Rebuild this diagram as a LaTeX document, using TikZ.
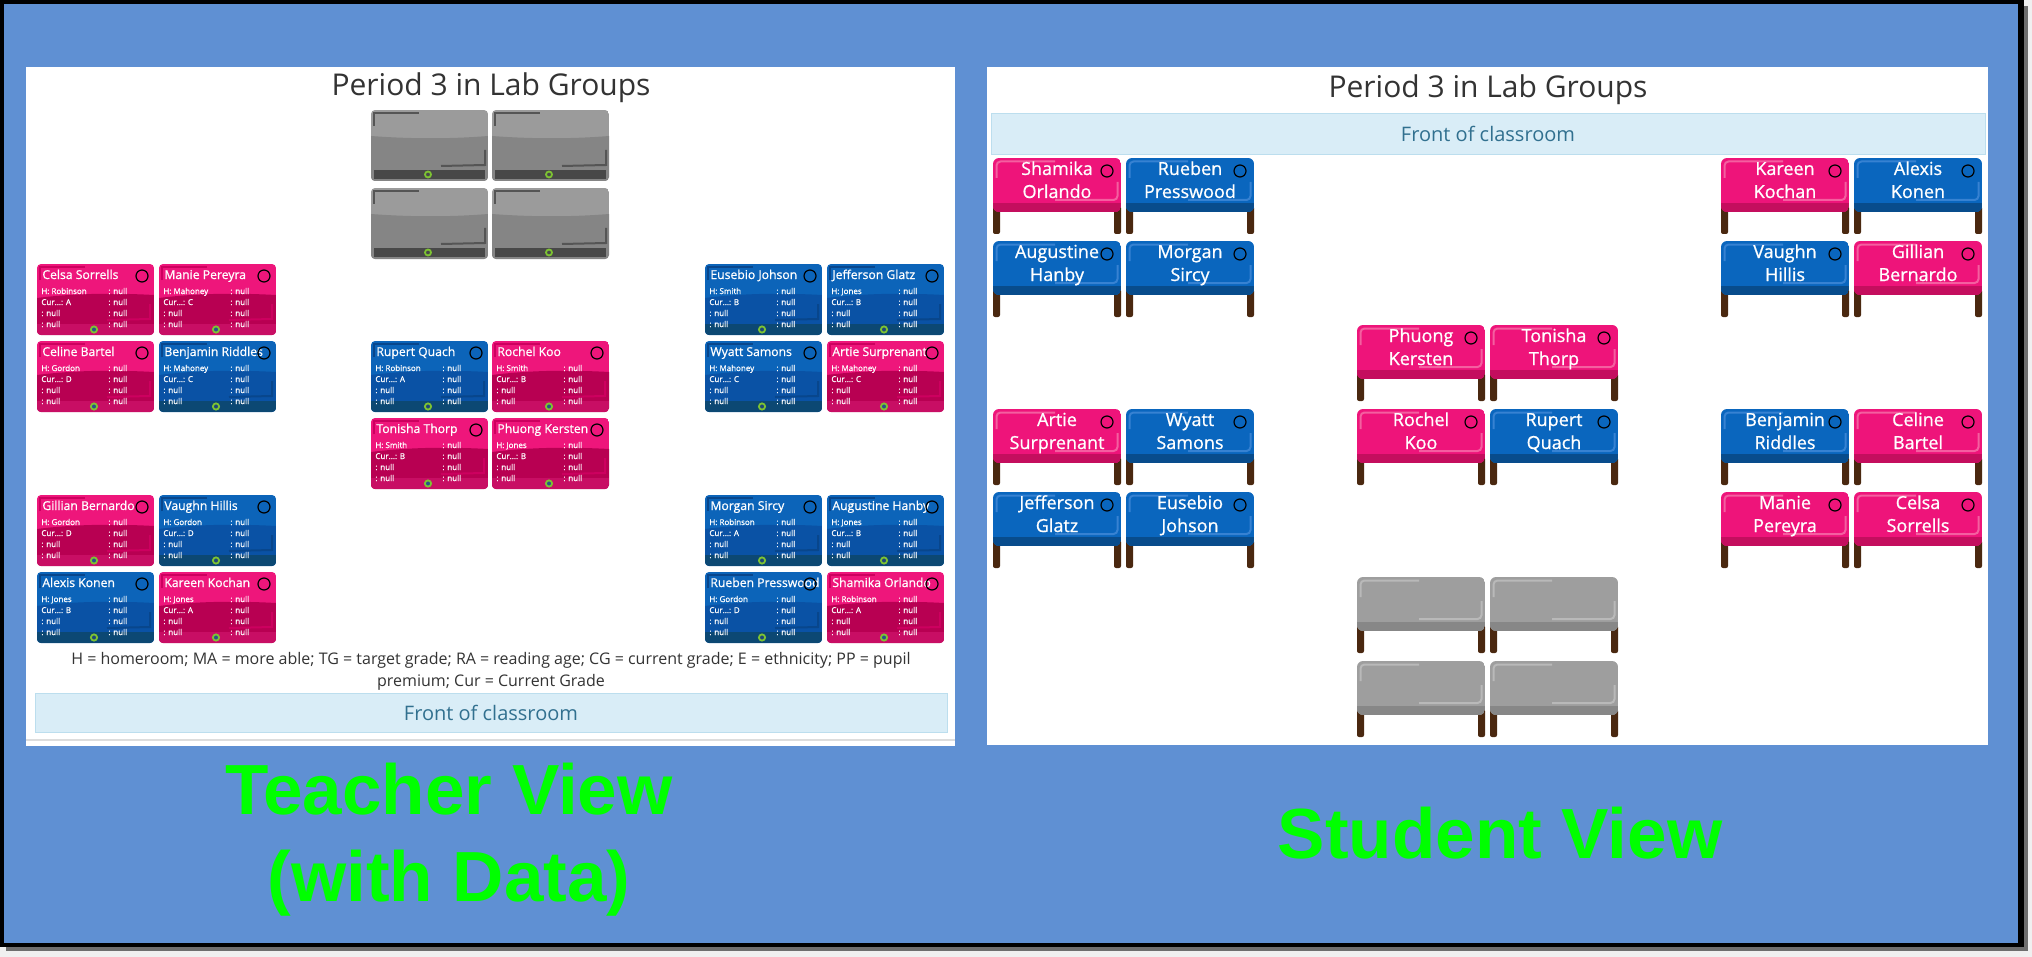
\documentclass[tikz,border=0pt]{standalone}
\usepackage{fontspec}
\setmainfont{Open Sans}
\newfontfamily\semib{Open Sans}[FakeBold=0.8]
\newfontfamily\greenfont{Liberation Sans}
\definecolor{outerbg}{RGB}{240,240,240}
\definecolor{shadowgray}{RGB}{110,110,110}
\definecolor{bgblue}{RGB}{95,144,211}
\definecolor{titlegray}{RGB}{51,51,51}
\definecolor{linegray}{RGB}{221,221,221}
\definecolor{frontfill}{RGB}{217,237,247}
\definecolor{frontborder}{RGB}{188,222,238}
\definecolor{fronttext}{RGB}{49,112,143}
\definecolor{vgreen}{RGB}{0,255,0}
\definecolor{pinkA}{RGB}{238,22,123}
\definecolor{pinkB}{RGB}{184,0,82}
\definecolor{pinkC}{RGB}{200,14,100}
\definecolor{pinkD}{RGB}{205,0,95}
\definecolor{pinkR}{RGB}{40,80,140}
\definecolor{blueA}{RGB}{12,100,185}
\definecolor{blueB}{RGB}{10,82,165}
\definecolor{blueC}{RGB}{12,72,115}
\definecolor{blueD}{RGB}{8,70,140}
\definecolor{blueR}{RGB}{30,70,120}
\definecolor{pinkS}{RGB}{238,20,122}
\definecolor{pinkT}{RGB}{196,14,94}
\definecolor{pinkH}{RGB}{244,95,160}
\definecolor{blueS}{RGB}{10,102,190}
\definecolor{blueT}{RGB}{8,76,140}
\definecolor{blueH}{RGB}{55,130,210}
\definecolor{grayS}{RGB}{158,158,158}
\definecolor{grayT}{RGB}{135,135,135}
\definecolor{grayH}{RGB}{185,185,185}
\definecolor{legbrown}{RGB}{74,40,16}
\definecolor{tgA}{RGB}{155,155,155}
\definecolor{tgB}{RGB}{133,133,133}
\definecolor{tgC}{RGB}{72,72,72}
\definecolor{tgD}{RGB}{85,85,85}
\definecolor{ringgreen}{RGB}{125,195,50}
\tikzset{
  cname/.style={anchor=base west, inner sep=0pt, text=white, font=\semib\fontsize{6.1}{7}\selectfont},
  cdata/.style={anchor=base west, inner sep=0pt, text=white, font=\semib\fontsize{4}{5}\selectfont},
  dname/.style={anchor=base, inner sep=0pt, text=white, font=\semib\fontsize{9}{10}\selectfont},
  ptitle/.style={anchor=base, inner sep=0pt, text=titlegray, font=\fontsize{15}{18}\selectfont},
  legendtext/.style={anchor=base, inner sep=0pt, text=titlegray, font=\fontsize{8}{10}\selectfont},
  fronttxt/.style={anchor=base, inner sep=0pt, text=fronttext, font=\fontsize{10}{12}\selectfont},
  gtext/.style={anchor=base, inner sep=0pt, text=vgreen, font={\greenfont\bfseries\fontsize{35.5}{40}\selectfont}},
  seatcircle/.style={draw=black, line width=0.6pt},
}
% teacher card: x, y, scheme, name, H, Cur, id
\newcommand{\tcard}[7]{%
\begin{scope}[shift={(#1,#2)}]
  \begin{scope}
    \clip[rounded corners=2pt] (0,0) rectangle (117,71);
    \fill[#3A] (0,0) rectangle (117,71);
    \fill[#3B] (0,34) .. controls (40,29) and (80,29) .. (117,31) -- (117,71) -- (0,71) -- cycle;
    \fill[#3C] (0,60) rectangle (117,71);
    \draw[#3D, line width=1pt] (3,16) -- (3,3) -- (48,3);
    \draw[#3D, line width=1pt] (113,40) -- (113,55) -- (70,56);
    \node[cname] (#7n) at (5,15) {#4};
  \end{scope}
  \draw[seatcircle] (105,12) circle (6);
  \node[cdata] (#7h) at (4,30) {H: #5};
  \node[cdata] (#7c) at (4,41) {Cur...: #6};
  \node[cdata] (#7x) at (4,52) {: null};
  \node[cdata] (#7y) at (4,63) {: null};
  \node[cdata] (#7p) at (71,30) {: null};
  \node[cdata] (#7q) at (71,41) {: null};
  \node[cdata] (#7r) at (71,52) {: null};
  \node[cdata] (#7s) at (71,63) {: null};
  \fill[#3R] (57,65.5) circle (2.4);
  \draw[ringgreen, line width=0.9pt] (57,65.5) circle (3.1);
\end{scope}}
% teacher gray desk: x, y
\newcommand{\tgray}[2]{%
\begin{scope}[shift={(#1,#2)}]
  \begin{scope}
    \clip[rounded corners=2pt] (0,0) rectangle (117,71);
    \fill[tgA] (0,0) rectangle (117,71);
    \fill[tgB] (0,26) .. controls (40,29) and (80,29) .. (117,26) -- (117,71) -- (0,71) -- cycle;
  \end{scope}
  \fill[tgC] (3,60) rectangle (114,69);
  \draw[tgD, line width=1pt] (3,16) -- (3,3) -- (48,3);
  \draw[tgD, line width=1pt] (114,40) -- (114,55) -- (70,56);
  \draw[ringgreen, line width=0.9pt] (57,64.5) circle (3);
\end{scope}}
% student desk: x, y, scheme, line1, line2, id
\newcommand{\sdesk}[6]{%
\begin{scope}[shift={(#1,#2)}]
  \fill[legbrown, rounded corners=1pt] (0,48) rectangle (7,76);
  \fill[legbrown, rounded corners=1pt] (121,48) rectangle (128,76);
  \begin{scope}
    \clip[rounded corners=3pt] (0,0) rectangle (128,54);
    \fill[#3S] (0,0) rectangle (128,54);
    \fill[#3T] (0,45) rectangle (128,54);
  \end{scope}
  \draw[#3H, line width=1pt, rounded corners=2pt] (3.5,20) -- (3.5,3.5) -- (62,3.5);
  \draw[#3H, line width=1pt, rounded corners=2pt] (124.5,24) -- (124.5,42) -- (62,42);
  \draw[seatcircle] (114,13) circle (6);
  \node[dname] (#6a) at (64,17) {#4};
  \node[dname] (#6b) at (64,40) {#5};
\end{scope}}
% student gray desk: x, y
\newcommand{\gdesk}[2]{%
\begin{scope}[shift={(#1,#2)}]
  \fill[legbrown, rounded corners=1pt] (0,48) rectangle (7,76);
  \fill[legbrown, rounded corners=1pt] (121,48) rectangle (128,76);
  \begin{scope}
    \clip[rounded corners=3pt] (0,0) rectangle (128,54);
    \fill[grayS] (0,0) rectangle (128,54);
    \fill[grayT] (0,45) rectangle (128,54);
  \end{scope}
  \draw[grayH, line width=1pt, rounded corners=2pt] (3.5,20) -- (3.5,3.5) -- (62,3.5);
  \draw[grayH, line width=1pt, rounded corners=2pt] (124.5,24) -- (124.5,42) -- (62,42);
\end{scope}}

\begin{document}
\begin{tikzpicture}[x=0.5pt, y=-0.5pt]
\useasboundingbox (0,0) rectangle (2032,957);
\fill[outerbg] (0,0) rectangle (2032,957);
\fill[shadowgray] (6,6) rectangle (2028,951);
\fill[black] (0,0) rectangle (2024,947);
\fill[bgblue] (4,4) rectangle (2018,943);
% panels
\fill[white] (26,67) rectangle (955,746);
\fill[white] (987,67) rectangle (1988,745);
\draw[linegray, line width=1pt] (26,740) -- (955,740);

% ---------- Teacher view ----------
\node[ptitle] (ltitle) at (491,96) {Period 3 in Lab Groups};
\tgray{371}{110}
\tgray{492}{110}
\tgray{371}{188}
\tgray{492}{188}
\tcard{37}{264}{pink}{Celsa Sorrells}{Robinson}{A}{celsaT}
\tcard{159}{264}{pink}{Manie Pereyra}{Mahoney}{C}{manieT}
\tcard{705}{264}{blue}{Eusebio Johson}{Smith}{B}{eusebioT}
\tcard{827}{264}{blue}{Jefferson Glatz}{Jones}{B}{jeffersonT}
\tcard{37}{341}{pink}{Celine Bartel}{Gordon}{D}{celineT}
\tcard{159}{341}{blue}{Benjamin Riddles}{Mahoney}{C}{benjaminT}
\tcard{371}{341}{blue}{Rupert Quach}{Robinson}{A}{rupertT}
\tcard{492}{341}{pink}{Rochel Koo}{Smith}{B}{rochelT}
\tcard{705}{341}{blue}{Wyatt Samons}{Mahoney}{C}{wyattT}
\tcard{827}{341}{pink}{Artie Surprenant}{Mahoney}{C}{artieT}
\tcard{371}{418}{pink}{Tonisha Thorp}{Smith}{B}{tonishaT}
\tcard{492}{418}{pink}{Phuong Kersten}{Jones}{B}{phuongT}
\tcard{37}{495}{pink}{Gillian Bernardo}{Gordon}{D}{gillianT}
\tcard{159}{495}{blue}{Vaughn Hillis}{Gordon}{D}{vaughnT}
\tcard{705}{495}{blue}{Morgan Sircy}{Robinson}{A}{morganT}
\tcard{827}{495}{blue}{Augustine Hanby}{Jones}{B}{augustineT}
\tcard{37}{572}{blue}{Alexis Konen}{Jones}{B}{alexisT}
\tcard{159}{572}{pink}{Kareen Kochan}{Jones}{A}{kareenT}
\tcard{705}{572}{blue}{Rueben Presswood}{Gordon}{D}{ruebenT}
\tcard{827}{572}{pink}{Shamika Orlando}{Robinson}{A}{shamikaT}
\node[legendtext] (leg1) at (491,664) {H = homeroom; MA = more able; TG = target grade; RA = reading age; CG = current grade; E = ethnicity; PP = pupil};
\node[legendtext] (leg2) at (491,686) {premium; Cur = Current Grade};
\draw[frontborder, fill=frontfill, line width=0.5pt] (35,693) rectangle (947,732);
\node[fronttxt] (lfront) at (491,720) {Front of classroom};

% ---------- Student view ----------
\node[ptitle] (rtitle) at (1488,98) {Period 3 in Lab Groups};
\draw[frontborder, fill=frontfill, line width=0.5pt] (991,114) rectangle (1985,155);
\node[fronttxt] (rfront) at (1488,142) {Front of classroom};
\sdesk{993}{158}{pink}{Shamika}{Orlando}{shamikaS}
\sdesk{1126}{158}{blue}{Rueben}{Presswood}{ruebenS}
\sdesk{1721}{158}{pink}{Kareen}{Kochan}{kareenS}
\sdesk{1854}{158}{blue}{Alexis}{Konen}{alexisS}
\sdesk{993}{241}{blue}{Augustine}{Hanby}{augustineS}
\sdesk{1126}{241}{blue}{Morgan}{Sircy}{morganS}
\sdesk{1721}{241}{blue}{Vaughn}{Hillis}{vaughnS}
\sdesk{1854}{241}{pink}{Gillian}{Bernardo}{gillianS}
\sdesk{1357}{325}{pink}{Phuong}{Kersten}{phuongS}
\sdesk{1490}{325}{pink}{Tonisha}{Thorp}{tonishaS}
\sdesk{993}{409}{pink}{Artie}{Surprenant}{artieS}
\sdesk{1126}{409}{blue}{Wyatt}{Samons}{wyattS}
\sdesk{1357}{409}{pink}{Rochel}{Koo}{rochelS}
\sdesk{1490}{409}{blue}{Rupert}{Quach}{rupertS}
\sdesk{1721}{409}{blue}{Benjamin}{Riddles}{benjaminS}
\sdesk{1854}{409}{pink}{Celine}{Bartel}{celineS}
\sdesk{993}{492}{blue}{Jefferson}{Glatz}{jeffersonS}
\sdesk{1126}{492}{blue}{Eusebio}{Johson}{eusebioS}
\sdesk{1721}{492}{pink}{Manie}{Pereyra}{manieS}
\sdesk{1854}{492}{pink}{Celsa}{Sorrells}{celsaS}
\gdesk{1357}{577}
\gdesk{1490}{577}
\gdesk{1357}{661}
\gdesk{1490}{661}

% ---------- captions ----------
\node[gtext] (tv1) at (449,814) {Teacher View};
\node[gtext] (tv2) at (449,901) {(with Data)};
\node[gtext] (sv) at (1500,858) {Student View};
\end{tikzpicture}
\end{document}
